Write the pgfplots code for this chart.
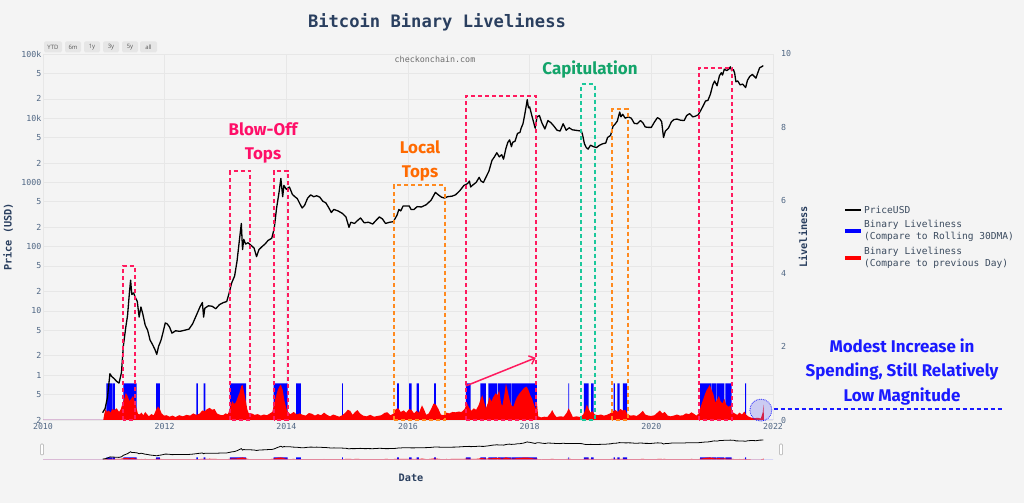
\documentclass[border=0pt]{standalone}
\usepackage{fontspec}
\setmainfont{DejaVu Sans Mono}
\newfontfamily\annfont{Fira Sans}
\newfontfamily\btnfont{Open Sans}
\usepackage{pgfplots}
\pgfplotsset{compat=1.18}
\usepackage{pgfplotstable}
\usetikzlibrary{arrows.meta}

\definecolor{bg}{HTML}{F4F4F4}
\definecolor{gridc}{HTML}{E7E7E7}
\definecolor{tickc}{HTML}{506784}
\definecolor{titlec}{HTML}{2A3F5F}
\definecolor{legc}{HTML}{3B4B5F}
\definecolor{pinkd}{HTML}{FF1A5E}
\definecolor{pinkt}{HTML}{FF0F68}
\definecolor{orad}{HTML}{FF8A1F}
\definecolor{orat}{HTML}{FF6A00}
\definecolor{grnd}{HTML}{1BC89B}
\definecolor{grnt}{HTML}{13A46A}
\definecolor{bluet}{HTML}{1A1AFF}
\definecolor{btnc}{HTML}{E6E6E6}

\pgfplotstableread{
year price
2010.98 0.26
2011.02 0.30
2011.06 0.45
2011.10 1.05
2011.13 0.95
2011.17 0.88
2011.21 0.80
2011.25 0.75
2011.29 1.1
2011.32 2.8
2011.36 5.5
2011.39 8.5
2011.42 19
2011.44 30
2011.46 18
2011.49 19
2011.52 16
2011.55 14
2011.58 8
2011.61 11.5
2011.64 9
2011.68 6
2011.72 5
2011.76 3.5
2011.80 3.0
2011.84 2.5
2011.87 2.1
2011.90 2.8
2011.94 3.5
2011.97 4.5
2012.01 6.5
2012.04 6.3
2012.08 5.6
2012.12 4.5
2012.18 4.9
2012.25 4.8
2012.33 5.0
2012.40 5.2
2012.46 6.3
2012.52 8.5
2012.58 11.5
2012.62 13.5
2012.64 8.0
2012.66 11
2012.72 12
2012.78 11.8
2012.84 10.8
2012.90 12.5
2012.96 13.4
2013.02 14
2013.06 19
2013.10 27
2013.15 35
2013.19 60
2013.23 130
2013.26 230
2013.28 90
2013.30 130
2013.33 110
2013.37 115
2013.42 105
2013.47 95
2013.51 70
2013.55 90
2013.60 100
2013.65 110
2013.70 125
2013.76 135
2013.80 190
2013.84 400
2013.88 700
2013.91 1150
2013.94 600
2013.96 900
2014.00 780
2014.05 850
2014.10 650
2014.14 600
2014.18 560
2014.22 470
2014.26 400
2014.30 440
2014.35 570
2014.40 640
2014.45 600
2014.50 620
2014.55 590
2014.60 510
2014.65 480
2014.70 400
2014.74 340
2014.78 380
2014.85 360
2014.92 330
2014.98 290
2015.03 200
2015.06 240
2015.12 230
2015.18 260
2015.22 280
2015.28 235
2015.35 240
2015.42 225
2015.48 260
2015.53 290
2015.58 270
2015.63 230
2015.70 240
2015.76 245
2015.82 310
2015.85 380
2015.88 360
2015.92 430
2015.97 430
2016.02 430
2016.05 380
2016.10 380
2016.15 420
2016.22 415
2016.30 450
2016.38 530
2016.45 700
2016.49 650
2016.55 590
2016.60 570
2016.65 600
2016.72 610
2016.78 640
2016.85 740
2016.92 900
2016.98 960
2017.01 1050
2017.03 850
2017.07 920
2017.12 1000
2017.17 1200
2017.20 1050
2017.24 1000
2017.28 1200
2017.33 1500
2017.38 2200
2017.42 2500
2017.46 2900
2017.50 2500
2017.54 2700
2017.57 2300
2017.61 3400
2017.64 4200
2017.67 4600
2017.70 3600
2017.72 4200
2017.76 4400
2017.80 5800
2017.84 6000
2017.86 7000
2017.89 8200
2017.92 11500
2017.95 17000
2017.96 19500
2017.98 14500
2018.00 15000
2018.03 11500
2018.06 9000
2018.09 7000
2018.12 10500
2018.16 11000
2018.20 8500
2018.25 6800
2018.30 9200
2018.35 8500
2018.40 7500
2018.45 6500
2018.50 6300
2018.55 8200
2018.60 6500
2018.65 7100
2018.70 6600
2018.75 6500
2018.80 6400
2018.85 6300
2018.87 5500
2018.90 4000
2018.93 3500
2018.96 3300
2019.00 3800
2019.05 3600
2019.10 3500
2019.15 3800
2019.20 4000
2019.25 4100
2019.28 5000
2019.33 5400
2019.37 7500
2019.40 8000
2019.44 9000
2019.48 12500
2019.50 10500
2019.53 11500
2019.57 10000
2019.62 10500
2019.67 10000
2019.72 8300
2019.77 8200
2019.82 9200
2019.86 8500
2019.90 7300
2019.95 7200
2020.00 7200
2020.05 8700
2020.10 10200
2020.14 9700
2020.17 8800
2020.20 5000
2020.23 6300
2020.28 7000
2020.33 8800
2020.37 9500
2020.42 9700
2020.48 9300
2020.54 9200
2020.58 11000
2020.63 11800
2020.68 10500
2020.72 10700
2020.77 11300
2020.81 13100
2020.85 15500
2020.89 18500
2020.93 19000
2020.97 23500
2021.01 33000
2021.04 38000
2021.08 32000
2021.12 46000
2021.15 51000
2021.17 47000
2021.20 58000
2021.24 55000
2021.28 59000
2021.30 63000
2021.32 55000
2021.35 57000
2021.37 50000
2021.39 37000
2021.42 38000
2021.46 33000
2021.50 34000
2021.55 30000
2021.58 39000
2021.62 45000
2021.66 48000
2021.70 44000
2021.72 42000
2021.74 48000
2021.78 61000
2021.81 63000
2021.84 66000
}\pricetab

\pgfplotstableread{
year v
2010.00 0
2010.99 0
2011.01 0.18
2011.03 0.30
2011.05 0.22
2011.08 0.26
2011.11 0.20
2011.14 0.30
2011.17 0.27
2011.21 0.32
2011.25 0.22
2011.28 0.30
2011.31 0.47
2011.34 0.60
2011.36 0.74
2011.39 0.66
2011.42 0.52
2011.45 0.58
2011.48 0.66
2011.51 0.50
2011.54 0.30
2011.56 0.17
2011.59 0.15
2011.62 0.20
2011.65 0.13
2011.68 0.22
2011.71 0.16
2011.74 0.10
2011.78 0.16
2011.82 0.13
2011.86 0.28
2011.89 0.37
2011.92 0.30
2011.95 0.18
2011.99 0.12
2012.03 0.13
2012.08 0.09
2012.13 0.12
2012.18 0.08
2012.24 0.13
2012.30 0.10
2012.36 0.14
2012.42 0.12
2012.47 0.18
2012.52 0.14
2012.57 0.17
2012.62 0.26
2012.66 0.24
2012.70 0.30
2012.74 0.33
2012.78 0.28
2012.82 0.30
2012.86 0.18
2012.91 0.14
2012.96 0.13
2013.00 0.18
2013.04 0.16
2013.08 0.35
2013.11 0.52
2013.14 0.44
2013.17 0.48
2013.20 0.62
2013.23 0.74
2013.26 0.93
2013.28 0.96
2013.30 0.80
2013.33 0.55
2013.36 0.28
2013.39 0.15
2013.43 0.18
2013.48 0.14
2013.53 0.16
2013.58 0.12
2013.63 0.15
2013.68 0.13
2013.73 0.18
2013.77 0.22
2013.80 0.45
2013.83 0.65
2013.86 0.82
2013.89 0.93
2013.91 0.96
2013.94 0.82
2013.97 0.52
2014.00 0.32
2014.03 0.20
2014.07 0.16
2014.12 0.22
2014.17 0.15
2014.22 0.18
2014.27 0.14
2014.32 0.12
2014.37 0.19
2014.42 0.17
2014.47 0.12
2014.52 0.16
2014.57 0.13
2014.62 0.20
2014.67 0.14
2014.72 0.10
2014.77 0.15
2014.82 0.12
2014.87 0.09
2014.92 0.13
2014.97 0.20
2015.01 0.28
2015.05 0.25
2015.09 0.14
2015.13 0.22
2015.17 0.27
2015.21 0.18
2015.26 0.12
2015.32 0.10
2015.38 0.14
2015.44 0.09
2015.50 0.11
2015.56 0.13
2015.62 0.20
2015.66 0.21
2015.71 0.13
2015.76 0.17
2015.80 0.30
2015.84 0.32
2015.88 0.22
2015.93 0.26
2015.97 0.20
2016.02 0.30
2016.06 0.27
2016.10 0.18
2016.14 0.25
2016.18 0.20
2016.23 0.40
2016.26 0.30
2016.30 0.14
2016.34 0.18
2016.38 0.30
2016.42 0.45
2016.46 0.42
2016.50 0.30
2016.54 0.15
2016.58 0.13
2016.63 0.20
2016.68 0.18
2016.73 0.22
2016.78 0.21
2016.83 0.23
2016.88 0.22
2016.93 0.30
2016.97 0.46
2017.00 0.35
2017.04 0.25
2017.08 0.32
2017.12 0.28
2017.16 0.40
2017.19 0.55
2017.22 0.68
2017.25 0.50
2017.28 0.32
2017.31 0.45
2017.34 0.62
2017.37 0.50
2017.40 0.62
2017.44 0.73
2017.47 0.68
2017.50 0.82
2017.53 0.45
2017.55 0.38
2017.58 0.65
2017.61 1.00
2017.64 0.78
2017.67 0.55
2017.70 0.40
2017.73 0.36
2017.76 0.50
2017.79 0.62
2017.83 0.72
2017.87 0.80
2017.91 0.88
2017.95 0.91
2017.98 0.82
2018.01 0.68
2018.04 0.58
2018.07 0.42
2018.10 0.30
2018.12 0.45
2018.14 0.10
2018.19 0.07
2018.24 0.09
2018.29 0.08
2018.34 0.18
2018.37 0.27
2018.40 0.17
2018.44 0.08
2018.50 0.10
2018.56 0.09
2018.61 0.20
2018.64 0.32
2018.67 0.22
2018.71 0.08
2018.77 0.10
2018.83 0.08
2018.88 0.15
2018.91 0.25
2018.94 0.42
2018.97 0.30
2019.00 0.20
2019.03 0.24
2019.07 0.15
2019.12 0.13
2019.17 0.15
2019.22 0.12
2019.27 0.14
2019.32 0.18
2019.37 0.24
2019.41 0.27
2019.45 0.22
2019.49 0.30
2019.53 0.26
2019.57 0.28
2019.61 0.15
2019.66 0.12
2019.71 0.13
2019.76 0.11
2019.81 0.17
2019.86 0.25
2019.90 0.15
2019.95 0.12
2020.00 0.11
2020.05 0.13
2020.10 0.20
2020.14 0.26
2020.18 0.18
2020.22 0.22
2020.27 0.12
2020.32 0.10
2020.37 0.12
2020.42 0.15
2020.47 0.12
2020.52 0.13
2020.57 0.18
2020.62 0.16
2020.66 0.21
2020.70 0.17
2020.74 0.12
2020.78 0.18
2020.81 0.36
2020.85 0.55
2020.88 0.70
2020.91 0.82
2020.94 0.90
2020.96 0.96
2020.99 0.82
2021.02 0.70
2021.05 0.48
2021.08 0.55
2021.11 0.66
2021.14 0.50
2021.17 0.45
2021.20 0.58
2021.23 0.42
2021.27 0.36
2021.30 0.40
2021.33 0.22
2021.37 0.18
2021.41 0.14
2021.45 0.20
2021.49 0.15
2021.53 0.23
2021.56 0.14
2021.60 0.09
2021.65 0.06
2021.70 0.05
2021.75 0.06
2021.80 0.04
2021.83 0.20
2021.845 0.42
2021.85 0
}\redtab

\pgfplotstableread{
year v
2010.00 0
2011.04 0
2011.04 1
2011.14 1
2011.14 0
2011.15 0
2011.15 1
2011.18 1
2011.18 0
2011.32 0
2011.32 1
2011.54 1
2011.54 0
2011.86 0
2011.86 1
2011.92 1
2011.92 0
2012.52 0
2012.52 1
2012.545 1
2012.545 0
2012.64 0
2012.64 1
2012.67 1
2012.67 0
2013.07 0
2013.07 1
2013.34 1
2013.34 0
2013.79 0
2013.79 1
2014.02 1
2014.02 0
2014.16 0
2014.16 1
2014.24 1
2014.24 0
2014.915 0
2014.915 1
2014.93 1
2014.93 0
2015.82 0
2015.82 1
2015.85 1
2015.85 0
2016.02 0
2016.02 1
2016.06 1
2016.06 0
2016.14 0
2016.14 1
2016.18 1
2016.18 0
2016.43 0
2016.43 1
2016.46 1
2016.46 0
2016.95 0
2016.95 1
2017.03 1
2017.03 0
2017.19 0
2017.19 1
2017.28 1
2017.28 0
2017.32 0
2017.32 1
2017.47 1
2017.47 0
2017.48 0
2017.48 1
2017.69 1
2017.69 0
2017.70 0
2017.70 1
2018.12 1
2018.12 0
2018.635 0
2018.635 1
2018.65 1
2018.65 0
2018.89 0
2018.89 1
2018.97 1
2018.97 0
2019.01 0
2019.01 1
2019.05 1
2019.05 0
2019.38 0
2019.38 1
2019.40 1
2019.40 0
2019.44 0
2019.44 1
2019.48 1
2019.48 0
2019.53 0
2019.53 1
2019.60 1
2019.60 0
2020.80 0
2020.80 1
2020.985 1
2020.985 0
2020.995 0
2020.995 1
2021.065 1
2021.065 0
2021.075 0
2021.075 1
2021.20 1
2021.20 0
2021.215 0
2021.215 1
2021.32 1
2021.32 0
2021.54 0
2021.54 1
2021.56 1
2021.56 0
2022.00 0
}\bluetab

\pgfplotsset{
  base/.style={at={(43bp,83bp)}, anchor=south west, width=730bp, height=366bp,
    scale only axis, xmin=2010, xmax=2022},
  mini/.style={at={(43bp,43.6bp)}, anchor=south west, width=730bp, height=20bp,
    scale only axis, xmin=2010, xmax=2022, hide axis},
}

\begin{document}
\begin{tikzpicture}[x=1bp,y=1bp]
\fill[bg] (0,0) rectangle (1024,503);
\path[use as bounding box] (0,0) rectangle (1024,503);

% ---------- grid / left axis / x axis ----------
\begin{axis}[base,
  ymode=log, ymin=0.2, ymax=100000,
  axis line style={draw=none},
  major tick length=0pt, yminorticks=false, xminorticks=false,
  xtick={2010,2012,2014,2016,2018,2020,2022},
  xticklabels={2010,2012,2014,2016,2018,2020,2022},
  ytick={0.2,0.5,1,2,5,10,20,50,100,200,500,1000,2000,5000,10000,20000,50000,100000},
  yticklabels={2,5,1,2,5,10,2,5,100,2,5,1000,2,5,10k,2,5,100k},
  grid=major, major grid style={color=gridc, line width=0.6bp},
  ticklabel style={font=\fontsize{8.3}{10}\selectfont, text=tickc},
  /pgf/number format/assume math mode=true,
  yticklabel style={inner sep=1bp, xshift=-0.5bp},
  xticklabel style={inner sep=1bp, yshift=-2bp},
  ylabel={Price (USD)},
  ylabel style={at={(axis description cs:-0.0479,0.5)}, anchor=center,
    font=\fontsize{10.3}{12}\selectfont\bfseries, text=titlec},
  xlabel={Date},
  xlabel style={at={(axis description cs:0.5041,-0.1585)}, anchor=center,
    font=\fontsize{10.3}{12}\selectfont\bfseries, text=titlec},
]
\draw[color=gray!90!black, line width=0.8bp] (rel axis cs:0,0) -- (rel axis cs:1,0);
\end{axis}

% ---------- liveliness (right axis) ----------
\begin{axis}[base,
  ymin=0, ymax=10, clip=false,
  axis line style={draw=none}, major tick length=0pt,
  xtick=\empty,
  ytick={0,2,4,6,8,10}, yticklabels={0,2,4,6,8,10},
  yticklabel pos=right,
  ticklabel style={font=\fontsize{8.3}{10}\selectfont, text=tickc},
  yticklabel style={anchor=west, inner sep=0bp, xshift=8bp},
  ylabel={Liveliness},
  ylabel style={at={(axis description cs:1.0411,0.5)}, anchor=center,
    font=\fontsize{10.3}{12}\selectfont\bfseries, text=titlec},
]
\addplot[draw=none, fill=blue] table[x=year, y=v] {\bluetab};
\addplot[draw=none, fill=red] table[x=year, y=v] {\redtab};
\addplot[draw=pinkd, line width=1.5bp, -{Straight Barb[length=5bp,width=9bp]}]
  coordinates {(2016.95,0.93) (2018.10,1.70)};
\addplot[draw=bluet, line width=1.2bp, dash pattern=on 4bp off 3bp]
  coordinates {(2022.01,0.30) (2025.80,0.30)};
\draw[draw=bluet, densely dotted, line width=0.8bp,
  fill={rgb,255:red,110;green,110;blue,240}, fill opacity=0.3]
  (axis cs:2021.80,0.27) circle[radius=11bp];
\end{axis}

% ---------- price (left log axis, drawn on top) ----------
\begin{axis}[base,
  ymode=log, ymin=0.2, ymax=100000, clip=false, hide axis,
]
\addplot[black, line width=1.3bp, line join=round] table[x=year, y=price] {\pricetab};

\pgfplotsset{rect/.style={line width=2bp, dash pattern=on 4bp off 3bp, forget plot}}
\addplot[rect, draw=pinkd] coordinates {(2011.31,0.2) (2011.31,50) (2011.51,50) (2011.51,0.2) (2011.31,0.2)};
\addplot[rect, draw=pinkd] coordinates {(2013.08,0.2) (2013.08,1500) (2013.41,1500) (2013.41,0.2) (2013.08,0.2)};
\addplot[rect, draw=pinkd] coordinates {(2013.79,0.2) (2013.79,1500) (2014.02,1500) (2014.02,0.2) (2013.79,0.2)};
\addplot[rect, draw=orad] coordinates {(2015.77,0.2) (2015.77,900) (2016.61,900) (2016.61,0.2) (2015.77,0.2)};
\addplot[rect, draw=pinkd] coordinates {(2016.95,0.2) (2016.95,22000) (2018.11,22000) (2018.11,0.2) (2016.95,0.2)};
\addplot[rect, draw=grnd] coordinates {(2018.85,0.2) (2018.85,33500) (2019.07,33500) (2019.07,0.2) (2018.85,0.2)};
\addplot[rect, draw=orad] coordinates {(2019.36,0.2) (2019.36,13700) (2019.61,13700) (2019.61,0.2) (2019.36,0.2)};
\addplot[rect, draw=pinkd] coordinates {(2020.79,0.2) (2020.79,61600) (2021.33,61600) (2021.33,0.2) (2020.79,0.2)};
\end{axis}

% ---------- legend ----------
\begin{scope}[font=\fontsize{9.6}{12.5}\selectfont]
\draw[black, line width=1.3bp] (845,293) -- (861,293);
\node[anchor=west, inner sep=0pt, text=legc] at (864,293) {PriceUSD};
\draw[blue, line width=3.5bp] (845,272) -- (861,272);
\node[anchor=west, inner sep=0pt, text=legc, align=left] at (864,272)
  {Binary Liveliness\\(Compare to Rolling 30DMA)};
\draw[red, line width=3.5bp] (845,245) -- (861,245);
\node[anchor=west, inner sep=0pt, text=legc, align=left] at (864,245)
  {Binary Liveliness\\(Compare to previous Day)};
\end{scope}

% ---------- range slider ----------
\begin{axis}[mini, ymin=0, ymax=10]
\addplot[draw=none, fill=blue] table[x=year, y=v] {\bluetab};
\addplot[draw=none, fill=red] table[x=year, y=v] {\redtab};
\end{axis}
\begin{axis}[mini, ymode=log, ymin=0.2, ymax=100000]
\addplot[black, line width=0.8bp] table[x=year, y=price] {\pricetab};
\end{axis}
\draw[fill=white, draw=gray!70, rounded corners=1bp, line width=0.5bp] (40.5,48) rectangle (43.5,59);
\draw[fill=white, draw=gray!70, rounded corners=1bp, line width=0.5bp] (779.5,48) rectangle (782.5,59);

% ---------- texts ----------
\node[font=\fontsize{17.2}{20}\selectfont\bfseries, text=titlec] at (437,481) {Bitcoin Binary Liveliness};
\node[font=\fontsize{8.4}{10}\selectfont, text=gray!85!black] at (435,444) {checkonchain.com};

\foreach \lab/\cx/\w in {YTD/53/18, 6m/73/16, 1y/92/16, 3y/111/16, 5y/130/16, all/148.5/17}{
  \fill[btnc, rounded corners=1.5bp] (\cx-\w/2,450.5) rectangle (\cx+\w/2,461.5);
  \node[font=\btnfont\fontsize{6}{7}\selectfont, text=gray!70!black] at (\cx,456) {\lab};
}

\node[font=\annfont\fontsize{17}{24.5}\selectfont\bfseries, text=pinkt, align=center] at (263,360) {Blow-Off\\Tops};
\node[font=\annfont\fontsize{17}{24.5}\selectfont\bfseries, text=orat, align=center] at (420,342) {Local\\Tops};
\node[font=\annfont\fontsize{17}{24.5}\selectfont\bfseries, text=grnt] at (590,433) {Capitulation};
\node[font=\annfont\fontsize{17}{24.5}\selectfont\bfseries, text=bluet, align=center] at (902,131)
  {Modest Increase in\\Spending, Still Relatively\\Low Magnitude};
\end{tikzpicture}
\end{document}
